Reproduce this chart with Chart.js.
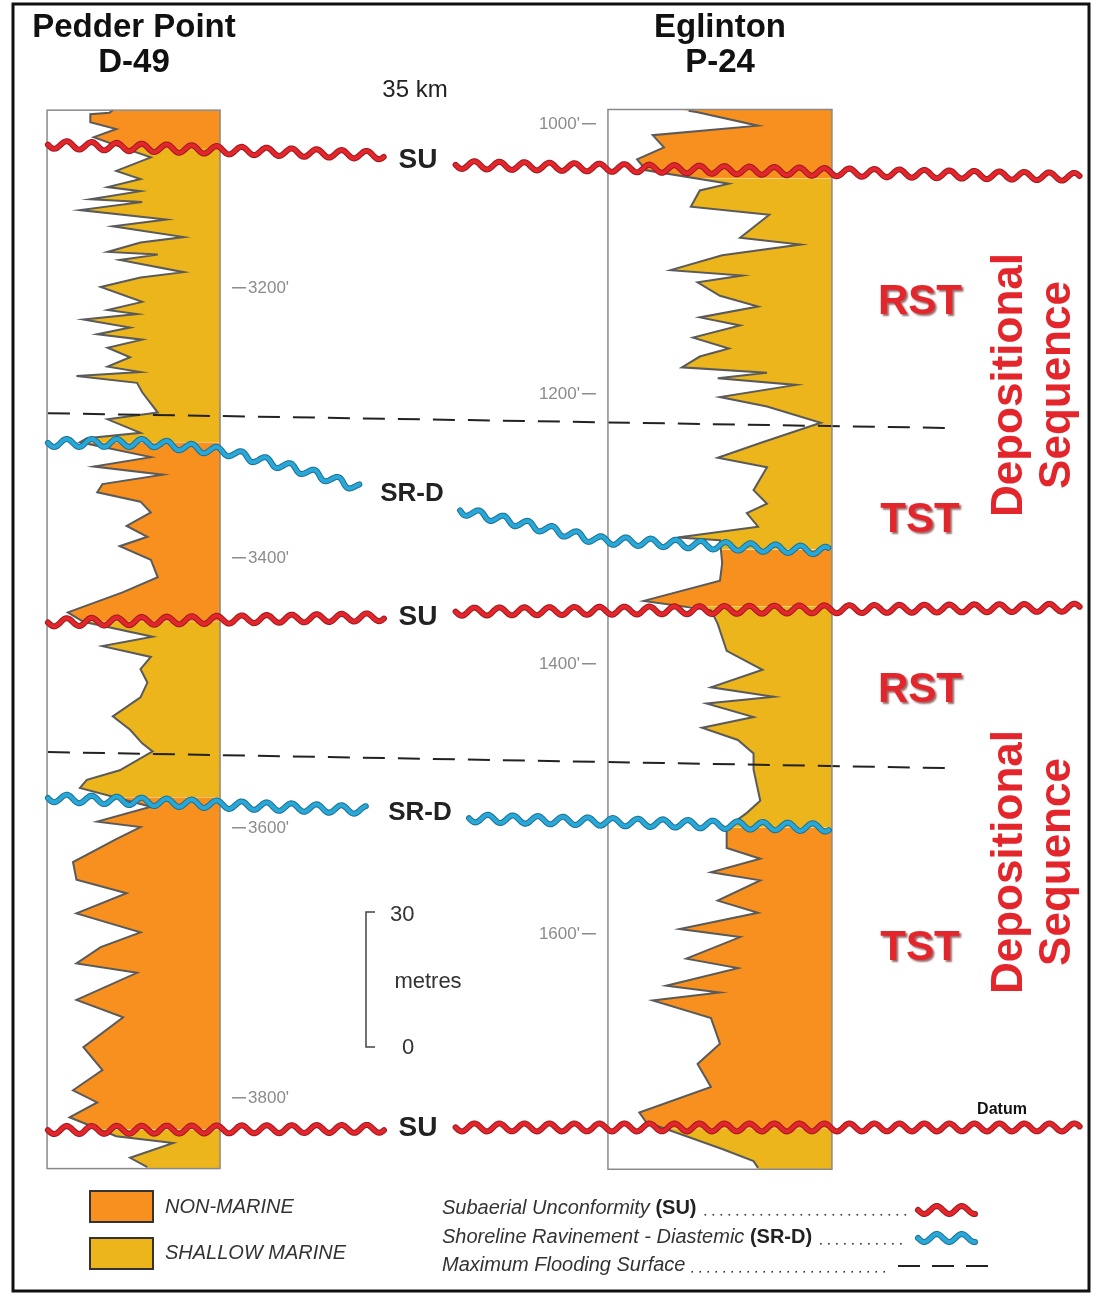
<!DOCTYPE html>
<html>
<head>
<meta charset="utf-8">
<script src="https://cdn.jsdelivr.net/npm/chart.js@4/dist/chart.umd.min.js"></script>
<style>
  html, body { margin: 0; padding: 0; background: #fff; }
  canvas { display: block; }
</style>
</head>
<body>
<canvas id="logChart" width="1103" height="1299"></canvas>
<script>
// log readings: depth in feet, log value in % of track width
const pedderDepth = [3069,3071,3072,3078,3083,3089,3096,3104,3114,3120,3126,3129,3135,3137,3143,3150,3155,3163,3167,3174,3176,3180,3189,3193,3200,3211,3217,3220,3224,3230,3235,3239,3245,3252,3259,3263,3266,3271,3278,3293,3298,3308,3312,3315,3326,3333,3339,3346,3352,3359,3367,3377,3385,3392,3402,3415,3426,3441,3448,3459,3466,3474,3483,3493,3504,3518,3528,3538,3544,3558,3565,3571,3585,3596,3600,3609,3626,3639,3649,3664,3678,3689,3701,3708,3728,3741,3763,3780,3795,3804,3815,3829,3834,3845,3852];
const pedderLog   = [38,36,25,25,40,27,42,60,40,54,35,54,25,55,19,69,38,79,54,35,64,42,79,54,31,55,35,52,21,48,29,55,35,48,35,54,17,52,55,64,35,54,23,19,60,27,67,32,29,54,60,46,58,42,60,64,44,12,21,61,32,60,54,58,54,38,48,55,61,42,23,19,60,29,54,40,15,17,46,17,54,31,17,52,17,44,21,32,15,29,13,40,73,48,58];
const eglintonDepth = [991,992,1002,1009,1018,1027,1035,1045,1050,1062,1068,1085,1090,1098,1109,1113,1118,1128,1136,1144,1150,1159,1167,1173,1181,1185,1189,1194,1203,1210,1222,1237,1248,1255,1272,1282,1289,1299,1307,1309,1326,1339,1354,1361,1371,1391,1405,1418,1425,1430,1440,1448,1457,1467,1479,1502,1511,1522,1537,1545,1555,1561,1576,1585,1597,1603,1619,1626,1639,1644,1650,1663,1682,1697,1714,1733,1740,1760,1769,1774];
const eglintonLog   = [36,40,67,20,25,13,17,54,41,37,72,59,86,51,28,60,40,50,67,41,59,38,54,41,33,71,49,84,50,71,95,68,49,71,65,71,62,67,31,50,51,50,16,46,49,53,69,46,74,44,65,42,58,65,65,68,62,53,53,68,46,68,49,67,32,59,35,58,26,50,20,46,50,40,46,14,17,51,65,67];

// facies boundaries (ft) and the facies below each boundary
const pedderBounds   = [3069, 3097, 3315, 3448, 3578, 3824, 3853];
const eglintonBounds = [990, 1041, 1316, 1358, 1522, 1745, 1775];
const facies = ['non-marine', 'shallow', 'non-marine', 'shallow', 'non-marine', 'shallow'];

const pedderTicks   = [3200, 3400, 3600, 3800];
const eglintonTicks = [1000, 1200, 1400, 1600];

// correlation surfaces, in Eglinton track units (x) and Eglinton depth (y)
const suTop    = [[-250,1016],[-100,1024]];
const suTopR   = [[-68,1031],[211,1040]];
const srdTop   = [[-250,1237],[-204,1237],[-169,1244],[-137,1257],[-111,1270]];
const srdTopR  = [[-66,1287],[-4,1309],[99,1317]];
const suMid    = [[-250,1370],[-100,1366]];
const suMidR   = [[-68,1362],[211,1359]];
const srdLow   = [[-250,1500],[-108,1509]];
const srdLowR  = [[-62,1515],[99,1522]];
const suBase   = [[-250,1746],[-100,1745]];
const suBaseR  = [[-68,1744],[211,1744]];
const mfsTop   = [[-250,1215],[155,1226]];
const mfsLow   = [[-250,1466],[155,1478]];

const ORANGE = '#f7901e';
const YELLOW = '#ebb51b';
const RED = '#e3252c';
const BLUE = '#29a8d8';

function interp(depths, vals, d) {
  for (let i = 1; i < depths.length; i++) {
    if (d <= depths[i]) {
      const t = (d - depths[i-1]) / (depths[i] - depths[i-1]);
      return vals[i-1] + t * (vals[i] - vals[i-1]);
    }
  }
  return vals[vals.length - 1];
}

function zoneSets(depths, vals, bounds, xID, yID) {
  const sets = [];
  for (let z = 0; z < facies.length; z++) {
    const a = bounds[z], b = bounds[z+1];
    const pts = [{ x: interp(depths, vals, a), y: a }];
    depths.forEach((d, i) => { if (d > a && d < b) pts.push({ x: vals[i], y: d }); });
    pts.push({ x: interp(depths, vals, b), y: b });
    sets.push({
      data: pts, xAxisID: xID, yAxisID: yID,
      borderWidth: 0, pointRadius: 0,
      backgroundColor: facies[z] === 'shallow' ? YELLOW : ORANGE,
      fill: { value: 100 }, order: 2
    });
  }
  return sets;
}

function curveSet(depths, vals, xID, yID) {
  return {
    data: depths.map((d, i) => ({ x: vals[i], y: d })),
    xAxisID: xID, yAxisID: yID, borderColor: '#5a5a5a', borderWidth: 2,
    pointRadius: 0, fill: false, order: 1
  };
}

function surfSet(pts, kind) {
  const s = {
    data: pts.map(p => ({ x: p[0], y: p[1] })), xAxisID: 'xE', yAxisID: 'yE',
    pointRadius: 0, fill: false, order: 0, kind: kind
  };
  if (kind === 'mfs') { s.borderColor = '#222'; s.borderWidth = 2; s.borderDash = [22, 13]; }
  else { s.borderColor = 'rgba(0,0,0,0)'; s.borderWidth = 0; }
  return s;
}

const datasets = [].concat(
  zoneSets(pedderDepth, pedderLog, pedderBounds, 'xP', 'yP'),
  zoneSets(eglintonDepth, eglintonLog, eglintonBounds, 'xE', 'yE'),
  [curveSet(pedderDepth, pedderLog, 'xP', 'yP'), curveSet(eglintonDepth, eglintonLog, 'xE', 'yE')],
  [surfSet(mfsTop, 'mfs'), surfSet(mfsLow, 'mfs')],
  [suTop, suTopR, suMid, suMidR, suBase, suBaseR].map(p => surfSet(p, 'su')),
  [srdTop, srdTopR, srdLow, srdLowR].map(p => surfSet(p, 'srd'))
);

function wavePath(ctx, pts, amp, wl) {
  ctx.beginPath();
  let s = 0, first = true;
  for (let i = 1; i < pts.length; i++) {
    const [x0, y0] = pts[i-1], [x1, y1] = pts[i];
    const len = Math.hypot(x1 - x0, y1 - y0);
    const nx = -(y1 - y0) / len, ny = (x1 - x0) / len;
    for (let t = 0; t <= len; t += 1.5) {
      const off = amp * Math.sin(2 * Math.PI * (s + t) / wl);
      const px = x0 + (x1 - x0) * t / len + nx * off;
      const py = y0 + (y1 - y0) * t / len + ny * off;
      if (first) { ctx.moveTo(px, py); first = false; } else ctx.lineTo(px, py);
    }
    s += len;
  }
}

function drawWave(ctx, pts, color) {
  ctx.save();
  ctx.lineCap = 'round'; ctx.lineJoin = 'round';
  wavePath(ctx, pts, 4, 25);
  ctx.strokeStyle = color === RED ? '#9b1a1f' : '#1b6f93';
  ctx.lineWidth = 6; ctx.stroke();
  ctx.strokeStyle = color; ctx.lineWidth = 4; ctx.stroke();
  ctx.restore();
}

function text(ctx, str, x, y, font, color, align) {
  ctx.font = font; ctx.fillStyle = color || '#111';
  ctx.textAlign = align || 'left'; ctx.textBaseline = 'middle';
  ctx.fillText(str, x, y);
}

function dots(ctx, x0, x1, y) {
  ctx.fillStyle = '#333';
  for (let x = x0; x < x1; x += 8) { ctx.fillRect(x, y, 1.6, 1.6); }
}

const figurePlugin = {
  id: 'figure',
  beforeDraw(chart) {
    const ctx = chart.ctx;
    ctx.save();
    ctx.fillStyle = '#fff'; ctx.fillRect(0, 0, chart.width, chart.height);
    ctx.restore();
  },
  afterDatasetsDraw(chart) {
    const ctx = chart.ctx, s = chart.scales;
    ctx.save();
    // track outlines
    ctx.strokeStyle = '#8a8a8a'; ctx.lineWidth = 1.5;
    const bx = (xs, ys, b) => {
      const l = xs.getPixelForValue(0), r = xs.getPixelForValue(100);
      const t = ys.getPixelForValue(b[0]), btm = ys.getPixelForValue(b[b.length-1]);
      ctx.strokeRect(l, t, r - l, btm - t);
    };
    bx(s.xP, s.yP, pedderBounds);
    bx(s.xE, s.yE, eglintonBounds);

    // waves
    chart.data.datasets.forEach((ds, i) => {
      if (ds.kind !== 'su' && ds.kind !== 'srd') return;
      const pts = chart.getDatasetMeta(i).data.map(p => [p.x, p.y]);
      drawWave(ctx, pts, ds.kind === 'su' ? RED : BLUE);
    });

    // depth ticks
    const grey = '#8c8c8c';
    pedderTicks.forEach(d => {
      const y = s.yP.getPixelForValue(d), x = s.xP.getPixelForValue(100) + 12;
      ctx.fillStyle = grey; ctx.fillRect(x, y, 14, 1.5);
      text(ctx, d + "'", x + 16, y + 1, '17px "Liberation Sans"', grey);
    });
    eglintonTicks.forEach(d => {
      const y = s.yE.getPixelForValue(d), x = s.xE.getPixelForValue(0) - 12;
      ctx.fillStyle = grey; ctx.fillRect(x - 14, y, 14, 1.5);
      text(ctx, d + "'", x - 16, y + 1, '17px "Liberation Sans"', grey, 'right');
    });

    // titles
    const tf = 'bold 33px "Liberation Sans"';
    text(ctx, 'Pedder Point', 134, 28, tf, '#111', 'center');
    text(ctx, 'D-49', 134, 63, tf, '#111', 'center');
    text(ctx, 'Eglinton', 720, 28, tf, '#111', 'center');
    text(ctx, 'P-24', 720, 63, tf, '#111', 'center');
    text(ctx, '35 km', 415, 90, '24px "Liberation Sans"', '#222', 'center');

    // surface labels
    const lf = 'bold 28px "Liberation Sans"';
    text(ctx, 'SU', 418, 160, lf, '#222', 'center');
    text(ctx, 'SU', 418, 617, lf, '#222', 'center');
    text(ctx, 'SU', 418, 1128, lf, '#222', 'center');
    text(ctx, 'SR-D', 412, 494, 'bold 26px "Liberation Sans"', '#222', 'center');
    text(ctx, 'SR-D', 420, 813, 'bold 26px "Liberation Sans"', '#222', 'center');
    text(ctx, 'Datum', 1002, 1110, 'bold 16px "Liberation Sans"', '#111', 'center');

    // systems tracts
    const sf = 'bold 42px "Liberation Sans"';
    ctx.save();
    ctx.shadowColor = 'rgba(90,0,0,0.6)'; ctx.shadowOffsetX = 2; ctx.shadowOffsetY = 2; ctx.shadowBlur = 2;
    [['RST', 302], ['TST', 520], ['RST', 690], ['TST', 948]].forEach(([t, y]) => text(ctx, t, 920, y, sf, RED, 'center'));
    ctx.restore();
    [[385], [862]].forEach(([cy]) => {
      ctx.save();
      ctx.translate(0, cy); ctx.rotate(-Math.PI / 2);
      text(ctx, 'Depositional', 0, 1010, 'bold 44px "Liberation Sans"', RED, 'center');
      text(ctx, 'Sequence', 0, 1058, 'bold 44px "Liberation Sans"', RED, 'center');
      ctx.restore();
    });

    // scale bar
    ctx.strokeStyle = '#444'; ctx.lineWidth = 1.5;
    ctx.beginPath();
    ctx.moveTo(375, 912); ctx.lineTo(366, 912); ctx.lineTo(366, 1047); ctx.lineTo(375, 1047);
    ctx.stroke();
    text(ctx, '30', 390, 915, '22px "Liberation Sans"', '#333');
    text(ctx, 'metres', 428, 982, '22px "Liberation Sans"', '#333', 'center');
    text(ctx, '0', 402, 1048, '22px "Liberation Sans"', '#333');

    // legend
    ctx.lineWidth = 2; ctx.strokeStyle = '#333';
    ctx.fillStyle = ORANGE; ctx.fillRect(90, 1191, 63, 31); ctx.strokeRect(90, 1191, 63, 31);
    ctx.fillStyle = YELLOW; ctx.fillRect(90, 1238, 63, 31); ctx.strokeRect(90, 1238, 63, 31);
    const itf = 'italic 20px "Liberation Sans"';
    text(ctx, 'NON-MARINE', 165, 1207, itf, '#333');
    text(ctx, 'SHALLOW MARINE', 165, 1253, itf, '#333');

    let x = 442;
    text(ctx, 'Subaerial Unconformity ', x, 1208, itf, '#333');
    x += ctx.measureText('Subaerial Unconformity ').width;
    text(ctx, '(SU)', x, 1208, 'bold 20px "Liberation Sans"', '#222');
    x += ctx.measureText('(SU)').width + 8;
    dots(ctx, x, 905, 1214);
    drawWave(ctx, [[918, 1210], [975, 1210]], RED);

    x = 442;
    text(ctx, 'Shoreline Ravinement - Diastemic ', x, 1237, itf, '#333');
    x += ctx.measureText('Shoreline Ravinement - Diastemic ').width;
    text(ctx, '(SR-D)', x, 1237, 'bold 20px "Liberation Sans"', '#222');
    x += ctx.measureText('(SR-D)').width + 8;
    dots(ctx, x, 905, 1243);
    drawWave(ctx, [[918, 1238], [975, 1238]], BLUE);

    text(ctx, 'Maximum Flooding Surface', 442, 1265, itf, '#333');
    dots(ctx, 442 + ctx.measureText('Maximum Flooding Surface').width + 6, 890, 1271);
    ctx.setLineDash([22, 12]); ctx.strokeStyle = '#222'; ctx.lineWidth = 2;
    ctx.beginPath(); ctx.moveTo(898, 1266); ctx.lineTo(1000, 1266); ctx.stroke();
    ctx.setLineDash([]);

    // frame
    ctx.strokeStyle = '#111'; ctx.lineWidth = 3;
    ctx.strokeRect(13, 4, 1076, 1287);
    ctx.restore();
  }
};

new Chart(document.getElementById('logChart').getContext('2d'), {
  type: 'line',
  data: { datasets: datasets },
  options: {
    indexAxis: 'y',
    responsive: false,
    animation: false,
    devicePixelRatio: 1,
    layout: { padding: 0 },
    plugins: { legend: { display: false }, tooltip: { enabled: false } },
    elements: { line: { tension: 0 } },
    scales: {
      xP: { type: 'linear', axis: 'x', min: -27.2, max: 610.4, display: false },
      xE: { type: 'linear', axis: 'x', min: -271.4, max: 221.0, display: false },
      yP: { type: 'linear', axis: 'y', reverse: true, min: 2987.4, max: 3949.6, display: false },
      yE: { type: 'linear', axis: 'y', reverse: true, min: 908.9, max: 1871.1, display: false }
    }
  },
  plugins: [figurePlugin]
});
</script>
</body>
</html>
